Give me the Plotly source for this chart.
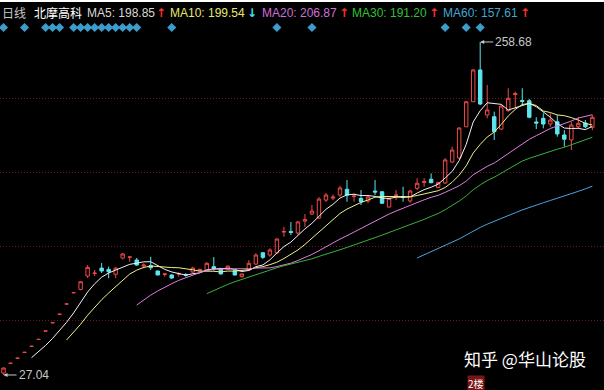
import plotly.graph_objects as go
import pandas as pd

# ---------------- data ----------------
opens = [28.4, 35.19, 38.69, 42.79, 46.99, 51.79, 57.59, 63.39, 69.29, 76.39, 84.29,
         86.6, 95.9, 97.6, 101.4, 100.5, 97.1, 108.4, 108.9, 107.0, 102.8,
         103.1, 99.4, 96.9, 96.6, 97.2, 96.8, 98.7, 99.5, 100.1, 102.4,
         101.2, 100.6, 99.6, 95.4, 100.1, 104.2, 112.1, 110.5, 111.9, 126.5,
         126.9, 125.8, 134.1, 139.0, 136.2, 148.7, 150.1, 152.2, 156.2, 151.2,
         149.9, 148.1, 155.0, 154.5, 143.9, 151.9, 151.2, 148.1, 156.9, 160.9,
         163.2, 157.5, 160.6, 175.2, 178.0, 199.7, 217.1, 239.2, 207.9, 206.7,
         198.1, 210.9, 222.1, 218.0, 217.8, 203.0, 205.6, 201.6, 203.2, 194.0,
         190.5, 199.7, 202.3, 199.3]
highs = [32.2, 35.2, 38.7, 42.8, 47.0, 51.8, 57.6, 63.4, 69.3, 76.4, 84.3,
         92.3, 103.5, 100.1, 104.9, 102.4, 102.2, 111.9, 109.4, 108.4, 104.7,
         109.3, 99.6, 97.8, 97.1, 98.5, 97.8, 102.4, 101.0, 105.6, 109.1,
         101.4, 103.1, 100.0, 97.5, 107.0, 111.7, 112.3, 115.2, 122.3, 130.2,
         133.5, 134.1, 139.0, 145.3, 150.8, 153.6, 152.6, 158.5, 162.7, 153.4,
         155.7, 152.2, 162.7, 154.9, 150.2, 155.7, 158.0, 155.7, 163.9, 163.9,
         167.3, 161.5, 178.0, 185.8, 199.5, 217.6, 239.9, 258.68, 228.8, 210.2,
         214.8, 226.5, 224.1, 226.5, 219.0, 206.3, 209.1, 209.1, 207.9, 197.4,
         203.2, 206.3, 204.4, 207.9]
lows = [27.04, 35.19, 38.69, 42.79, 46.99, 51.79, 57.59, 63.39, 69.29, 76.39, 84.29,
        86.0, 94.5, 95.9, 98.0, 94.3, 94.5, 107.4, 105.8, 103.1, 101.2,
        100.1, 96.4, 95.4, 93.8, 95.4, 95.4, 97.8, 99.0, 99.8, 99.6,
        97.0, 100.3, 96.3, 94.8, 99.8, 103.5, 107.7, 109.3, 111.2, 123.2,
        124.4, 124.4, 130.0, 138.3, 135.5, 147.4, 148.7, 151.1, 147.6, 147.6,
        145.3, 146.5, 152.2, 146.2, 143.6, 148.7, 147.6, 146.7, 155.7, 158.0,
        160.4, 156.9, 159.9, 174.5, 177.3, 199.5, 216.9, 214.8, 205.6, 190.5,
        197.4, 210.2, 212.6, 214.8, 205.6, 198.1, 198.6, 199.7, 192.8, 185.8,
        183.5, 198.6, 198.6, 197.4]
closes = [31.9, 35.2, 38.7, 42.8, 47.0, 51.8, 57.6, 63.4, 69.3, 76.4, 84.3,
          91.9, 101.9, 97.9, 99.4, 98.9, 101.3, 111.2, 109.2, 103.5, 103.5,
          101.7, 96.6, 97.3, 94.5, 97.5, 96.5, 101.4, 100.5, 104.7, 101.0,
          97.3, 102.8, 96.6, 97.3, 104.7, 110.5, 108.9, 114.0, 121.6, 126.8,
          126.2, 133.5, 135.2, 141.1, 149.4, 152.2, 150.8, 157.1, 152.2, 151.5,
          147.6, 150.8, 154.3, 146.5, 149.9, 152.2, 150.5, 155.0, 160.4, 161.6,
          160.8, 160.9, 176.6, 183.5, 198.8, 217.1, 239.2, 215.5, 211.4, 196.3,
          214.1, 219.5, 222.8, 217.3, 206.3, 202.3, 201.6, 204.4, 194.7, 191.0,
          200.9, 202.1, 199.7, 206.3]
days = list(range(len(closes)))

ma_periods = [5, 10, 20, 30, 60]
ma_names = ["MA5", "MA10", "MA20", "MA30", "MA60"]
ma_values = ["198.85", "199.54", "206.87", "191.20", "157.61"]
ma_arrows = ["↑", "↓", "↑", "↑", "↑"]
ma_line_colors = ["#f2f2f2", "#f0f08a", "#e07ee0", "#3cb03c", "#4aa4dc"]
ma_text_colors = ["#d8d8d8", "#e8e870", "#d070d8", "#34c034", "#44a8d4"]
ma_text_x = [85, 168, 260, 350, 441]
arrow_x = [154, 245, 337, 427, 518]
arrow_colors = ["#ff3030", "#40e0f0", "#ff3030", "#ff3030", "#ff3030"]

event_days = [0, 3, 6, 7, 8, 10, 11, 12, 13, 14, 15, 16, 17, 18, 19, 24, 39, 44, 63, 66, 68]

grid_levels = [65.2, 116.7, 168.2, 219.7]

high_label = "258.68"
low_label = "27.04"

# ---------------- figure ----------------
W, H = 604, 390
UP = "#f04848"
DOWN = "#5ce6f0"

fig = go.Figure()
fig.add_trace(go.Candlestick(
    x=days, open=opens, high=highs, low=lows, close=closes,
    increasing=dict(line=dict(color=UP, width=1), fillcolor="rgba(0,0,0,0)"),
    decreasing=dict(line=dict(color=DOWN, width=1), fillcolor=DOWN),
    whiskerwidth=0, hoverinfo="skip", showlegend=False))

s = pd.Series(closes)
for n, col in zip(ma_periods, ma_line_colors):
    ma = s.rolling(n).mean()
    fig.add_trace(go.Scatter(x=days, y=ma, mode="lines",
                             line=dict(color=col, width=1),
                             hoverinfo="skip", showlegend=False))

# event diamonds on overlay axis
fig.add_trace(go.Scatter(x=event_days, y=[1 - 27.5 / H] * len(event_days),
                         mode="markers", yaxis="y2",
                         marker=dict(symbol="diamond", size=7, color="#3c9ccc"),
                         hoverinfo="skip", showlegend=False))

ann = []
yt = 1 - 13 / H
ann.append(dict(x=0, y=yt, xref="paper", yref="paper", text="日线", showarrow=False,
                xanchor="left", yanchor="middle",
                font=dict(family="Noto Sans CJK SC", size=12, color="#c8c8c8")))
ann.append(dict(x=32 / W, y=yt, xref="paper", yref="paper", text="北摩高科", showarrow=False,
                xanchor="left", yanchor="middle",
                font=dict(family="Noto Sans CJK SC", size=12, color="#ffffff")))
for name, val, tx, tc, ar, ax_, ac in zip(ma_names, ma_values, ma_text_x, ma_text_colors,
                                          ma_arrows, arrow_x, arrow_colors):
    ann.append(dict(x=tx / W, y=yt, xref="paper", yref="paper", text=f"{name}: {val}",
                    showarrow=False, xanchor="left", yanchor="middle",
                    font=dict(family="Liberation Sans, Arial", size=12, color=tc)))
    ann.append(dict(x=ax_ / W, y=yt, xref="paper", yref="paper", text=f"<b>{ar}</b>",
                    showarrow=False, xanchor="left", yanchor="middle",
                    font=dict(family="DejaVu Sans", size=12, color=ac)))

hi_i = highs.index(max(highs))
lo_i = lows.index(min(lows))
for xi, yv, lab in [(hi_i, max(highs), high_label), (lo_i, min(lows), low_label)]:
    ann.append(dict(x=xi, y=yv, xref="x", yref="y", text=lab, showarrow=True,
                    ax=13, ay=0, xanchor="left", yanchor="middle",
                    arrowhead=2, arrowsize=0.8, arrowwidth=1, arrowcolor="#c8c8c8",
                    font=dict(family="Liberation Sans, Arial", size=12, color="#c8c8c8")))

ann.append(dict(x=462 / W, y=1 - 358 / H, xref="paper", yref="paper", text="知乎 @华山论股",
                showarrow=False, xanchor="left", yanchor="middle",
                font=dict(family="Noto Sans CJK SC", size=17, color="#ffffff")))
ann.append(dict(x=467 / W, y=1 - 383 / H, xref="paper", yref="paper", text="2楼",
                showarrow=False, xanchor="left", yanchor="middle", bgcolor="#7a1515",
                borderpad=0,
                font=dict(family="Noto Sans CJK SC", size=10, color="#ffffff")))

fig.update_layout(
    width=W, height=H, margin=dict(l=0, r=0, t=0, b=0),
    paper_bgcolor="black", plot_bgcolor="black",
    xaxis=dict(range=[-0.5, 85.66], visible=False, rangeslider=dict(visible=False),
               fixedrange=True),
    yaxis=dict(range=[16.6, 287.88], tickvals=grid_levels, showticklabels=False,
               showgrid=True, gridcolor="#6a1c1c", gridwidth=1, griddash="1px,2px",
               zeroline=False, showline=False, ticks=""),
    yaxis2=dict(range=[0, 1], overlaying="y", visible=False),
    annotations=ann,
    shapes=[dict(type="rect", xref="paper", yref="paper", x0=0, x1=1,
                 y0=1 - 2 / H, y1=1, fillcolor="white", line=dict(width=0))],
    hovermode=False, showlegend=False,
)

fig.write_html("out.html")
